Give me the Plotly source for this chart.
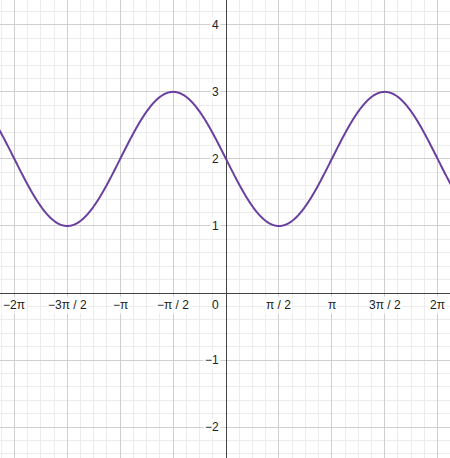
import numpy as np
import plotly.graph_objects as go

# curve y = 2 - sin(x), sampled
x_vals = np.linspace(-6.8, 6.8, 1200)
y_vals = 2 - np.sin(x_vals)

x_tick_pos = [-2*np.pi, -1.5*np.pi, -np.pi, -0.5*np.pi, 0.5*np.pi, np.pi, 1.5*np.pi, 2*np.pi]
x_tick_txt = ["−2π", "−3π / 2", "−π", "−π / 2", "π / 2", "π", "3π / 2", "2π"]
y_tick_pos = [-2, -1, 1, 2, 3, 4]
y_tick_txt = ["−2", "−1", "1", "2", "3", "4"]

fig = go.Figure(go.Scatter(x=x_vals, y=y_vals, mode="lines",
                           line=dict(color="#6a3fa0", width=2, simplify=False), hoverinfo="skip"))

ann = []
for p, t in zip(x_tick_pos, x_tick_txt):
    ann.append(dict(x=p, y=0, xref="x", yref="y", text=t, showarrow=False,
                    yshift=-12, font=dict(size=12, color="#222"), bgcolor="rgba(255,255,255,0.8)"))
for p, t in zip(y_tick_pos, y_tick_txt):
    ann.append(dict(x=0, y=p, xref="x", yref="y", text=t, showarrow=False,
                    xanchor="right", xshift=-5, font=dict(size=12, color="#222"), bgcolor="rgba(255,255,255,0.8)"))
ann.append(dict(x=0, y=0, xref="x", yref="y", text="0", showarrow=False,
                xanchor="right", xshift=-5, yshift=-12, font=dict(size=12, color="#222")))

fig.update_layout(
    width=450, height=458, margin=dict(l=0, r=0, t=0, b=0),
    plot_bgcolor="white", paper_bgcolor="white", showlegend=False,
    font=dict(family="Liberation Sans, Arial"),
    annotations=ann,
    xaxis=dict(range=[-6.71, 6.65], tickvals=x_tick_pos + [0], showticklabels=False,
               showgrid=True, gridcolor="#cfcfcf", gridwidth=1,
               minor=dict(tickmode="linear", tick0=0, dtick=np.pi/8, showgrid=True, gridcolor="#ececec"),
               zeroline=True, zerolinecolor="#444", zerolinewidth=1, fixedrange=True),
    yaxis=dict(range=[-2.46, 4.37], tickvals=list(range(-3, 6)), showticklabels=False,
               showgrid=True, gridcolor="#cfcfcf", gridwidth=1,
               minor=dict(tickmode="linear", tick0=0, dtick=0.2, showgrid=True, gridcolor="#ececec"),
               zeroline=True, zerolinecolor="#444", zerolinewidth=1, fixedrange=True),
)
fig.write_html("out.html", config={"displayModeBar": False},
               post_script="document.body.style.margin='0';document.body.style.overflow='hidden';")
